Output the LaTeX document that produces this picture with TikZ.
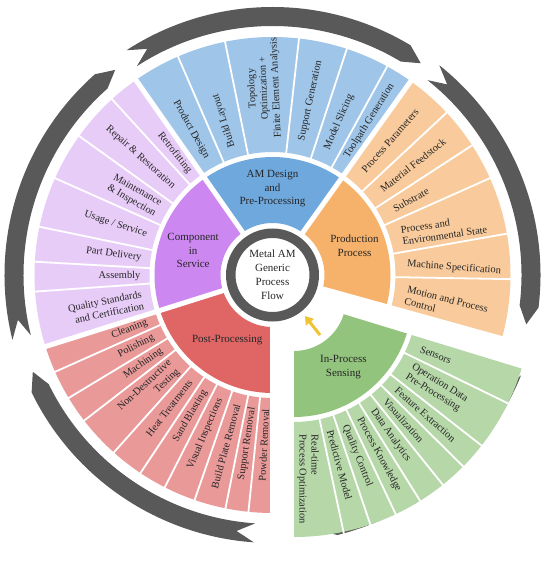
\documentclass[tikz,border=0pt]{standalone}
\usepackage{fontspec}
\setmainfont{Liberation Serif}
\usetikzlibrary{calc,arrows.meta}
\definecolor{bdark}{HTML}{6FA8DC}
\definecolor{blight}{HTML}{9FC5E8}
\definecolor{odark}{HTML}{F6B26B}
\definecolor{olight}{HTML}{F9CB9C}
\definecolor{gdark}{HTML}{93C47D}
\definecolor{glight}{HTML}{B6D7A8}
\definecolor{rdark}{HTML}{E06666}
\definecolor{rlight}{HTML}{EA9999}
\definecolor{pdark}{HTML}{CC88F0}
\definecolor{plight}{HTML}{E8CCF8}
\definecolor{ringgray}{HTML}{595959}
\definecolor{yarrow}{HTML}{F1C232}
\newcommand{\annsec}[6]{%
  \fill[#6] ($(#1)+(#2:#4)$) arc[start angle=#2, end angle=#3, radius=#4]
    -- ($(#1)+(#3:#5)$) arc[start angle=#3, end angle=#2, radius=#5] -- cycle;}
\newcommand{\cwarrow}[2]{%
  \fill[ringgray] ($(C)+(#1:268pt)$) arc[start angle=#1, end angle=#2, radius=268pt]
    -- ($(C)+({#2-4}:258.5pt)$) -- ($(C)+(#2:249pt)$)
    arc[start angle=#2, end angle=#1, radius=249pt]
    -- ($(C)+({#1-4}:258.5pt)$) -- cycle;}
\tikzset{
  sub/.style={font=\fontsize{10.4}{12}\selectfont, inner sep=0pt, text=black!85},
  mainlbl/.style={font=\fontsize{11}{13.5}\selectfont, align=center, inner sep=0pt, text=black!85},
  mainsep/.style={white, line width=5pt},
  subsep/.style={white, line width=1.8pt}
}
\begin{document}
\begin{tikzpicture}
\fill[white] (0,0) rectangle (550pt,573pt);
\useasboundingbox (0,0) rectangle (550pt,573pt);
\coordinate (C) at (272.5pt,298pt);
\coordinate (Cg) at (294pt,274pt);

% outer arrows
\cwarrow{123}{59}
\cwarrow{51.5}{-7}
\cwarrow{-22}{-76}
\cwarrow{266}{206}
\cwarrow{194}{131.5}

% sectors (centred on C)
\annsec{C}{54.5}{125}{52pt}{118pt}{bdark}
\annsec{C}{54.5}{125}{123pt}{238pt}{blight}
\annsec{C}{-15.5}{54.5}{52pt}{118pt}{odark}
\annsec{C}{-15.5}{54.5}{123pt}{238pt}{olight}
\annsec{C}{197.5}{270}{52pt}{118pt}{rdark}
\annsec{C}{197.5}{270}{123pt}{238pt}{rlight}
\annsec{C}{125}{197.5}{52pt}{118pt}{pdark}
\annsec{C}{125}{197.5}{123pt}{238pt}{plight}

\foreach \a in {54.5,125,197.5,270,-15.5}
  \draw[mainsep] ($(C)+(\a:45pt)$) -- ($(C)+(\a:242pt)$);
\foreach \a in {61.2,71.8,83.6,101.5,113.4,
                43,33,24,10,-1,
                204,211.1,217.7,228.2,236.3,243.1,250.9,258.6,264.2,
                132.4,144.3,156,168.3,176.8,184}
  \draw[subsep] ($(C)+(\a:120pt)$) -- ($(C)+(\a:240pt)$);

% exploded green sector
\annsec{Cg}{-90}{-17}{52pt}{118pt}{gdark}
\annsec{Cg}{-90}{-17}{123pt}{238pt}{glight}
\foreach \a in {-26,-38,-44.7,-51.3,-58,-64.7,-71.3,-78}
  \draw[subsep] ($(Cg)+(\a:120pt)$) -- ($(Cg)+(\a:240pt)$);

% centre ring
\draw[ringgray, line width=9.5pt] (C) circle[radius=41.75pt];
\node[mainlbl, font=\fontsize{11}{14}\selectfont] (ctr) at (C) {Metal AM\\Generic\\Process\\Flow};

% yellow feedback arrow
\coordinate (ya1) at (320pt,238pt);
\coordinate (ya2) at (305pt,257pt);
\draw[yarrow, line width=3pt, -{Triangle[length=8pt,width=10pt]}] (ya1) -- (ya2);

% main labels
\node[mainlbl] (amd) at ($(C)+(90:86pt)$) {AM Design\\and\\Pre-Processing};
\node[mainlbl] (cis) at ($(C)+(163:83pt)$) {Component\\in\\Service};
\node[mainlbl] (ppl) at ($(C)+(235:79pt)$) {Post-Processing};
\node[mainlbl] (prod) at ($(C)+(19.5:87pt)$) {Production\\Process};
\node[mainlbl] (ips) at ($(Cg)+(-54:84pt)$) {In-Process\\Sensing};

% blue sub labels
\node[sub, rotate=-60.8, anchor=east] (b1) at ($(C)+(119.2:134pt)$) {Product Design};
\node[sub, rotate=107.45, anchor=west] (b2) at ($(C)+(107.45:134pt)$) {Build Layout};
\node[sub, rotate=92.5, align=center] (b3) at ($(C)+(92.55:187pt)$) {Topology\\Optimization +\\Finite Element Analysis};
\node[sub, rotate=77.7, anchor=west] (b4) at ($(C)+(77.7:137pt)$) {Support Generation};
\node[sub, rotate=66.5, anchor=west] (b5) at ($(C)+(66.5:137pt)$) {Model Slicing};
\node[sub, rotate=57.85, anchor=west] (b6) at ($(C)+(57.85:139pt)$) {Toolpath Generation};

% orange sub labels
\node[sub, rotate=48.75, anchor=west] (o1) at ($(C)+(48.75:138pt)$) {Process Parameters};
\node[sub, rotate=38, anchor=west] (o2) at ($(C)+(38:138pt)$) {Material Feedstock};
\node[sub, rotate=28.5, anchor=west] (o3) at ($(C)+(28.5:138pt)$) {Substrate};
\node[sub, rotate=8, anchor=west, align=left] (o4) at ($(C)+(17:135pt)$) {Process and\\Environmental State};
\node[sub, rotate=-4, anchor=west] (o5) at ($(C)+(4.5:135pt)$) {Machine Specification};
\node[sub, rotate=-14, anchor=west, align=left] (o6) at ($(C)+(-8.5:135pt)$) {Motion and Process\\Control};

% red sub labels
\node[sub, rotate=20.75, anchor=east] (r1) at ($(C)+(200.75:134pt)$) {Cleaning};
\node[sub, rotate=27.55, anchor=east] (r2) at ($(C)+(207.55:134pt)$) {Polishing};
\node[sub, rotate=34.4, anchor=east] (r3) at ($(C)+(214.4:134pt)$) {Machining};
\node[sub, rotate=42.95, anchor=east, align=right] (r4) at ($(C)+(222.95:134pt)$) {Non-Destructive\\Testing};
\node[sub, rotate=52.25, anchor=east] (r5) at ($(C)+(232.25:134pt)$) {Heat Treatments};
\node[sub, rotate=59.7, anchor=east] (r6) at ($(C)+(239.7:134pt)$) {Sand Blasting};
\node[sub, rotate=67, anchor=east] (r7) at ($(C)+(247:134pt)$) {Visual Inspections};
\node[sub, rotate=74.75, anchor=east] (r8) at ($(C)+(254.75:134pt)$) {Build Plate Removal};
\node[sub, rotate=81.4, anchor=east] (r9) at ($(C)+(261.4:134pt)$) {Support Removal};
\node[sub, rotate=87.1, anchor=east] (r10) at ($(C)+(267.1:134pt)$) {Powder Removal};

% purple sub labels
\node[sub, rotate=-51.3, anchor=east] (p1) at ($(C)+(128.7:132pt)$) {Retrofitting};
\node[sub, rotate=-41.65, anchor=east] (p2) at ($(C)+(138.35:132pt)$) {Repair \& Restoration};
\node[sub, rotate=-29.85, anchor=east, align=center] (p3) at ($(C)+(150.15:132pt)$) {Maintenance\\\& Inspection};
\node[sub, rotate=-17.85, anchor=east] (p4) at ($(C)+(162.15:132pt)$) {Usage / Service};
\node[sub, rotate=-7.45, anchor=east] (p5) at ($(C)+(172.55:132pt)$) {Part Delivery};
\node[sub, rotate=0.4, anchor=east] (p6) at ($(C)+(180.4:132pt)$) {Assembly};
\node[sub, rotate=11.5, anchor=east, align=right] (p7) at ($(C)+(190.75:132pt)$) {Quality Standards\\and Certification};

% green sub labels
\node[sub, rotate=-21.5, anchor=west] (g1) at ($(Cg)+(-21.5:136pt)$) {Sensors};
\node[sub, rotate=-32, anchor=west, align=left] (g2) at ($(Cg)+(-32:136pt)$) {Operation Data\\Pre-Processing};
\node[sub, rotate=-41.35, anchor=west] (g3) at ($(Cg)+(-41.35:136pt)$) {Feature Extraction};
\node[sub, rotate=-48, anchor=west] (g4) at ($(Cg)+(-48:136pt)$) {Visualization};
\node[sub, rotate=-54.65, anchor=west] (g5) at ($(Cg)+(-54.65:136pt)$) {Data Analytics};
\node[sub, rotate=-61.35, anchor=west] (g6) at ($(Cg)+(-61.35:136pt)$) {Process Knowledge};
\node[sub, rotate=-68, anchor=west] (g7) at ($(Cg)+(-68:136pt)$) {Quality Control};
\node[sub, rotate=-74.65, anchor=west] (g8) at ($(Cg)+(-74.65:136pt)$) {Predictive Model};
\node[sub, rotate=-90, anchor=west, align=left] (g9) at ($(Cg)+(-84:136pt)$) {Real-time\\Process Optimization};
\end{tikzpicture}
\end{document}
